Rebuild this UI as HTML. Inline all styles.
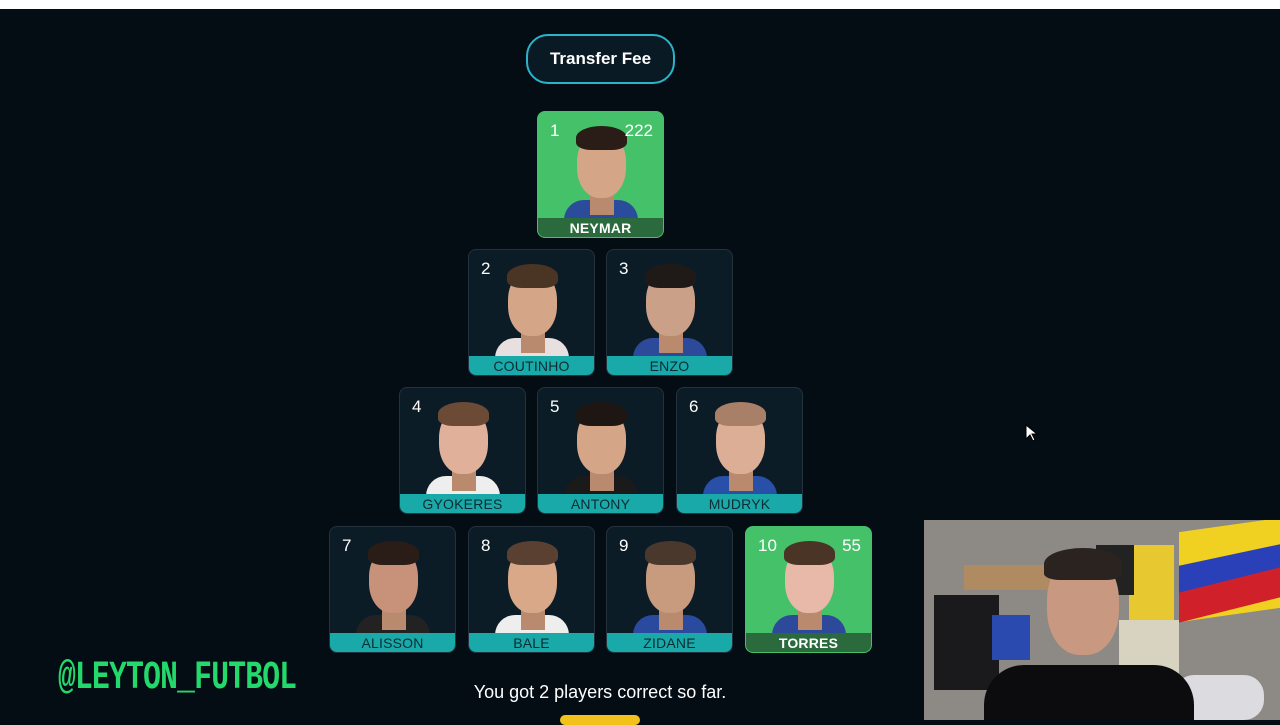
<!DOCTYPE html>
<html><head><meta charset="utf-8"><style>
*{margin:0;padding:0;box-sizing:border-box}
body{width:1280px;height:720px;overflow:hidden;background:#050d14;font-family:"Liberation Sans",sans-serif;position:relative}
.top{position:absolute;left:0;top:0;width:1280px;height:9px;background:#fff}
.btn{position:absolute;left:526px;top:34px;width:149px;height:50px;border:2px solid #2bb3c9;border-radius:22px;background:#0a1a24;color:#fff;font-size:17px;font-weight:bold;text-align:center;line-height:46px}
.card{position:absolute;width:127px;height:127px;border-radius:8px;background:#0c1c27;border:1px solid #23323d;overflow:hidden}
.card.g{background:#45c16a;border-color:#45c16a}
.num{position:absolute;left:12px;top:9px;color:#fff;font-size:17px}
.sc{position:absolute;right:10px;top:9px;color:#fff;font-size:17px}
.name{position:absolute;left:0;bottom:0;width:100%;height:19px;background:#19a9a9;color:#0d2c34;font-size:14px;text-align:center;line-height:20px;letter-spacing:.2px}
.g .name{background:#2a6a3c;color:#fff;font-weight:bold}
.shirt{position:absolute;left:26px;bottom:17px;width:74px;height:20px;border-radius:20px 20px 0 0;background:#d8d8e0}
.neck{position:absolute;left:52px;bottom:22px;width:24px;height:24px;background:#b98a6e}
.head{position:absolute;left:39px;top:20px;width:49px;height:66px;border-radius:45%;background:#d4a587}
.hair{position:absolute;left:38px;top:14px;width:51px;height:24px;border-radius:50% 50% 30% 30%;background:#3a2a22}
.wm{position:absolute;left:58px;top:656px;color:#23d96b;font-family:"Liberation Mono",monospace;font-weight:bold;font-size:40px;transform:scaleX(.74);transform-origin:left;letter-spacing:-1px}
.msg{position:absolute;left:0;width:1200px;top:682px;text-align:center;color:#fff;font-size:18px}
.yb{position:absolute;left:560px;top:715px;width:80px;height:10px;border-radius:8px;background:#f2c21b}
.cam{position:absolute;left:924px;top:520px;width:356px;height:200px;background:#8d8a86;overflow:hidden}
</style></head><body>
<div class="top"></div>
<div class="btn">Transfer Fee</div>

<div class="card g" style="left:537px;top:111px"><div class="shirt" style="background:#2b4c9a"></div><div class="neck"></div><div class="head"></div><div class="hair" style="background:#2a1d18"></div><span class="num">1</span><span class="sc">222</span><div class="name">NEYMAR</div></div>

<div class="card" style="left:468px;top:249px"><div class="shirt" style="background:#e8e0e0"></div><div class="neck"></div><div class="head"></div><div class="hair" style="background:#4a3424"></div><span class="num">2</span><div class="name">COUTINHO</div></div>
<div class="card" style="left:606px;top:249px"><div class="shirt" style="background:#2d4a9a"></div><div class="neck"></div><div class="head" style="background:#caa088"></div><div class="hair" style="background:#1f1a18"></div><span class="num">3</span><div class="name">ENZO</div></div>

<div class="card" style="left:399px;top:387px"><div class="shirt" style="background:#eee"></div><div class="neck"></div><div class="head" style="background:#e0b09a"></div><div class="hair" style="background:#6b4a36"></div><span class="num">4</span><div class="name">GYOKERES</div></div>
<div class="card" style="left:537px;top:387px"><div class="shirt" style="background:#1a1a1a"></div><div class="neck"></div><div class="head"></div><div class="hair" style="background:#1d1612"></div><span class="num">5</span><div class="name">ANTONY</div></div>
<div class="card" style="left:676px;top:387px"><div class="shirt" style="background:#2850a8"></div><div class="neck"></div><div class="head" style="background:#dcae96"></div><div class="hair" style="background:#a88068"></div><span class="num">6</span><div class="name">MUDRYK</div></div>

<div class="card" style="left:329px;top:526px"><div class="shirt" style="background:#222"></div><div class="neck"></div><div class="head" style="background:#c8927a"></div><div class="hair" style="background:#2a1c16"></div><span class="num">7</span><div class="name">ALISSON</div></div>
<div class="card" style="left:468px;top:526px"><div class="shirt" style="background:#eee"></div><div class="neck"></div><div class="head" style="background:#d8a888"></div><div class="hair" style="background:#5a4030"></div><span class="num">8</span><div class="name">BALE</div></div>
<div class="card" style="left:606px;top:526px"><div class="shirt" style="background:#2a4aa0"></div><div class="neck"></div><div class="head" style="background:#c89a7e"></div><div class="hair" style="background:#4a382c"></div><span class="num">9</span><div class="name">ZIDANE</div></div>
<div class="card g" style="left:745px;top:526px"><div class="shirt" style="background:#2d4a9a"></div><div class="neck"></div><div class="head" style="background:#e8b8a8"></div><div class="hair" style="background:#4a3426"></div><span class="num">10</span><span class="sc">55</span><div class="name">TORRES</div></div>

<div class="wm">@LEYTON_FUTBOL</div>
<div class="msg">You got 2 players correct so far.</div>
<div class="yb"></div>

<svg style="position:absolute;left:1025px;top:424px" width="14" height="18"><path d="M1 1 L1 15 L5 11 L8 17 L10 16 L7 10 L12 10 Z" fill="#fff" stroke="#000" stroke-width="1"/></svg>

<div class="cam">
<div style="position:absolute;left:255px;top:5px;width:101px;height:90px;background:#f0d020;transform:skewY(-8deg)"></div>
<div style="position:absolute;left:255px;top:35px;width:101px;height:30px;background:#2a40b8;transform:skewY(-12deg)"></div>
<div style="position:absolute;left:255px;top:60px;width:101px;height:30px;background:#d0202a;transform:skewY(-14deg)"></div>
<div style="position:absolute;left:40px;top:45px;width:90px;height:25px;background:#b08a60"></div>
<div style="position:absolute;left:10px;top:75px;width:65px;height:95px;background:#1a1a1c"></div>
<div style="position:absolute;left:68px;top:95px;width:38px;height:45px;background:#2a4ab0"></div>
<div style="position:absolute;left:205px;top:25px;width:45px;height:75px;background:#e8c830"></div>
<div style="position:absolute;left:172px;top:25px;width:38px;height:50px;background:#222"></div>
<div style="position:absolute;left:195px;top:100px;width:60px;height:60px;background:#d8d2c0"></div>
<div style="position:absolute;left:250px;top:155px;width:90px;height:45px;background:#dcdce0;border-radius:20px"></div>
<div style="position:absolute;left:60px;top:145px;width:210px;height:70px;background:#0c0c0e;border-radius:40px 40px 0 0"></div>
<div style="position:absolute;left:123px;top:35px;width:72px;height:100px;background:#c89880;border-radius:45%"></div>
<div style="position:absolute;left:120px;top:28px;width:78px;height:32px;background:#2a2320;border-radius:50% 50% 20% 20%"></div>
</div>
</body></html>
